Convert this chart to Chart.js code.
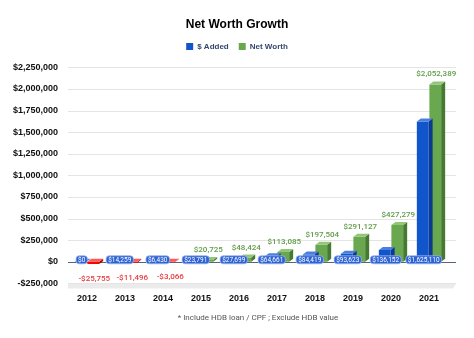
<!DOCTYPE html>
<html>
<head>
<meta charset="utf-8">
<script src="https://cdn.jsdelivr.net/npm/chart.js@4.4.1/dist/chart.umd.min.js"></script>
<style>
  html, body { margin: 0; padding: 0; background: #ffffff; }
  #wrap { width: 474px; height: 338px; }
</style>
</head>
<body>
<div id="wrap"><canvas id="chart" width="474" height="338"></canvas></div>
<script>
const years = ["2012", "2013", "2014", "2015", "2016", "2017", "2018", "2019", "2020", "2021"];
const added = [0, 14259, 6430, 23791, 27699, 64661, 84419, 93623, 136152, 1625110];
const netWorth = [-25755, -11496, -3066, 20725, 48424, 113085, 197504, 291127, 427279, 2052389];
const yMin = -250000;
const yMax = 2250000;
const yStep = 250000;

const FONT = "'Liberation Sans', Arial, sans-serif";
const LABEL_FONT = "Roboto, 'Liberation Sans', sans-serif";

const colors = {
  blue: { front: "#1155cc", side: "#0a3a92", top: "#4a7fe0" },
  green: { front: "#6aa84f", side: "#467a31", top: "#93c679" },
  red: { front: "#ff0000", side: "#b30000", top: "#ff5a5a" }
};

function money(v) {
  const s = "$" + Math.abs(v).toLocaleString("en-US");
  return v < 0 ? "-" + s : s;
}

function poly(ctx, pts, fill) {
  ctx.beginPath();
  ctx.moveTo(pts[0][0], pts[0][1]);
  for (let i = 1; i < pts.length; i++) ctx.lineTo(pts[i][0], pts[i][1]);
  ctx.closePath();
  ctx.fillStyle = fill;
  ctx.fill();
}

const DX = 4;
const DY = 3;

const threeD = {
  id: "threeD",
  beforeInit(chart) {
    const fit = chart.legend.fit;
    chart.legend.fit = function () {
      fit.bind(chart.legend)();
      this.height += 7;
    };
  },
  beforeDatasetsDraw(chart) {
    const { ctx, chartArea: a, scales: { y } } = chart;
    ctx.save();
    // floor
    poly(ctx, [[a.left, a.bottom], [a.right + 8, a.bottom], [a.right + 5, a.bottom + 5], [a.left, a.bottom + 5]], "#ebebeb");
    // grid
    ctx.lineWidth = 1;
    y.ticks.forEach((t) => {
      const py = Math.round(y.getPixelForValue(t.value)) + 0.5;
      ctx.strokeStyle = t.value === 0 ? "#55657a" : "#e4e4e4";
      ctx.beginPath();
      ctx.moveTo(a.left, py);
      ctx.lineTo(a.right + 8, py);
      ctx.stroke();
    });
    ctx.restore();
  },
  afterDatasetDraw(chart, args) {
    const { ctx } = chart;
    const ds = chart.data.datasets[args.index];
    ctx.save();
    args.meta.data.forEach((bar, i) => {
      const v = ds.data[i];
      const c = args.index === 0 ? colors.blue : (v < 0 ? colors.red : colors.green);
      const top = Math.min(bar.y, bar.base);
      const bottom = Math.max(bar.y, bar.base);
      const left = bar.x - bar.width / 2;
      const right = bar.x + bar.width / 2;
      poly(ctx, [[right, top], [right + DX, top - DY], [right + DX, bottom - DY], [right, bottom]], c.side);
      poly(ctx, [[left, top], [left + DX, top - DY], [right + DX, top - DY], [right, top]], c.top);
    });
    ctx.restore();
  },
  afterDraw(chart) {
    const { ctx, scales: { y } } = chart;
    const zero = y.getPixelForValue(0);
    ctx.save();
    ctx.textAlign = "center";
    ctx.textBaseline = "middle";

    // net worth labels
    ctx.font = "500 8px " + LABEL_FONT;
    chart.getDatasetMeta(1).data.forEach((bar, i) => {
      const v = netWorth[i];
      if (v < 0) {
        ctx.fillStyle = "#e8383d";
        ctx.fillText(money(v), bar.x + 1, bar.y + 15);
      } else {
        ctx.fillStyle = "#5f9b45";
        ctx.fillText(money(v), bar.x + 1, bar.y - DY - 7);
      }
    });

    // $ added labels in small boxes at the zero line
    ctx.font = "6.5px " + LABEL_FONT;
    chart.getDatasetMeta(0).data.forEach((bar, i) => {
      const txt = money(added[i]);
      const w = ctx.measureText(txt).width + 4;
      const h = 8;
      const cx = bar.x + 1;
      const cy = zero - 2;
      ctx.beginPath();
      ctx.roundRect(cx - w / 2, cy - h / 2, w, h, 3);
      ctx.fillStyle = "#2c62d4";
      ctx.fill();
      ctx.lineWidth = 0.8;
      ctx.strokeStyle = "#9bb6f0";
      ctx.stroke();
      ctx.fillStyle = "#ffffff";
      ctx.fillText(txt, cx, cy + 0.5);
    });
    ctx.restore();
  }
};

new Chart(document.getElementById("chart"), {
  type: "bar",
  data: {
    labels: years,
    datasets: [
      {
        label: "$ Added",
        data: added,
        backgroundColor: colors.blue.front,
        borderWidth: 0,
        categoryPercentage: 0.66,
        barPercentage: 0.94
      },
      {
        label: "Net Worth",
        data: netWorth,
        backgroundColor: (c) => (c.type === "data" && c.raw < 0 ? colors.red.front : colors.green.front),
        borderWidth: 0,
        categoryPercentage: 0.66,
        barPercentage: 0.94
      }
    ]
  },
  options: {
    responsive: false,
    animation: false,
    layout: { padding: 0 },
    plugins: {
      title: {
        display: true,
        text: "Net Worth Growth",
        color: "#000000",
        font: { family: FONT, size: 12, weight: "bold" },
        padding: { top: 17, bottom: 1 }
      },
      legend: {
        position: "top",
        labels: {
          boxWidth: 7,
          boxHeight: 7,
          padding: 10,
          color: "#34476a",
          font: { family: FONT, size: 8, weight: "bold" },
          generateLabels(chart) {
            const items = Chart.defaults.plugins.legend.labels.generateLabels(chart);
            items[0].fillStyle = colors.blue.front;
            items[1].fillStyle = colors.green.front;
            items.forEach((it) => { it.strokeStyle = it.fillStyle; it.lineWidth = 0; });
            return items;
          }
        }
      },
      subtitle: {
        display: true,
        position: "bottom",
        fullSize: false,
        text: "* Include HDB loan / CPF ; Exclude HDB value",
        color: "#555555",
        font: { family: LABEL_FONT, size: 8, weight: "normal" },
        padding: { top: 0, bottom: 15 }
      },
      tooltip: { enabled: false }
    },
    scales: {
      x: {
        grid: { display: false, drawTicks: false },
        border: { display: false },
        ticks: {
          color: "#111111",
          padding: 10,
          font: { family: FONT, size: 9, weight: "bold" }
        },
        afterFit(scale) { scale.height = 30; }
      },
      y: {
        min: yMin,
        max: yMax,
        grid: { display: false, drawTicks: false },
        border: { display: false },
        ticks: {
          stepSize: yStep,
          color: "#111111",
          padding: 10,
          font: { family: FONT, size: 9, weight: "bold" },
          callback: (v) => money(v)
        },
        afterFit(scale) { scale.width = 68; }
      },
      right: {
        type: "linear",
        position: "right",
        display: true,
        grid: { display: false, drawTicks: false },
        border: { display: false },
        ticks: { display: false },
        afterFit(scale) { scale.width = 26; }
      }
    }
  },
  plugins: [threeD]
});
</script>
</body>
</html>
